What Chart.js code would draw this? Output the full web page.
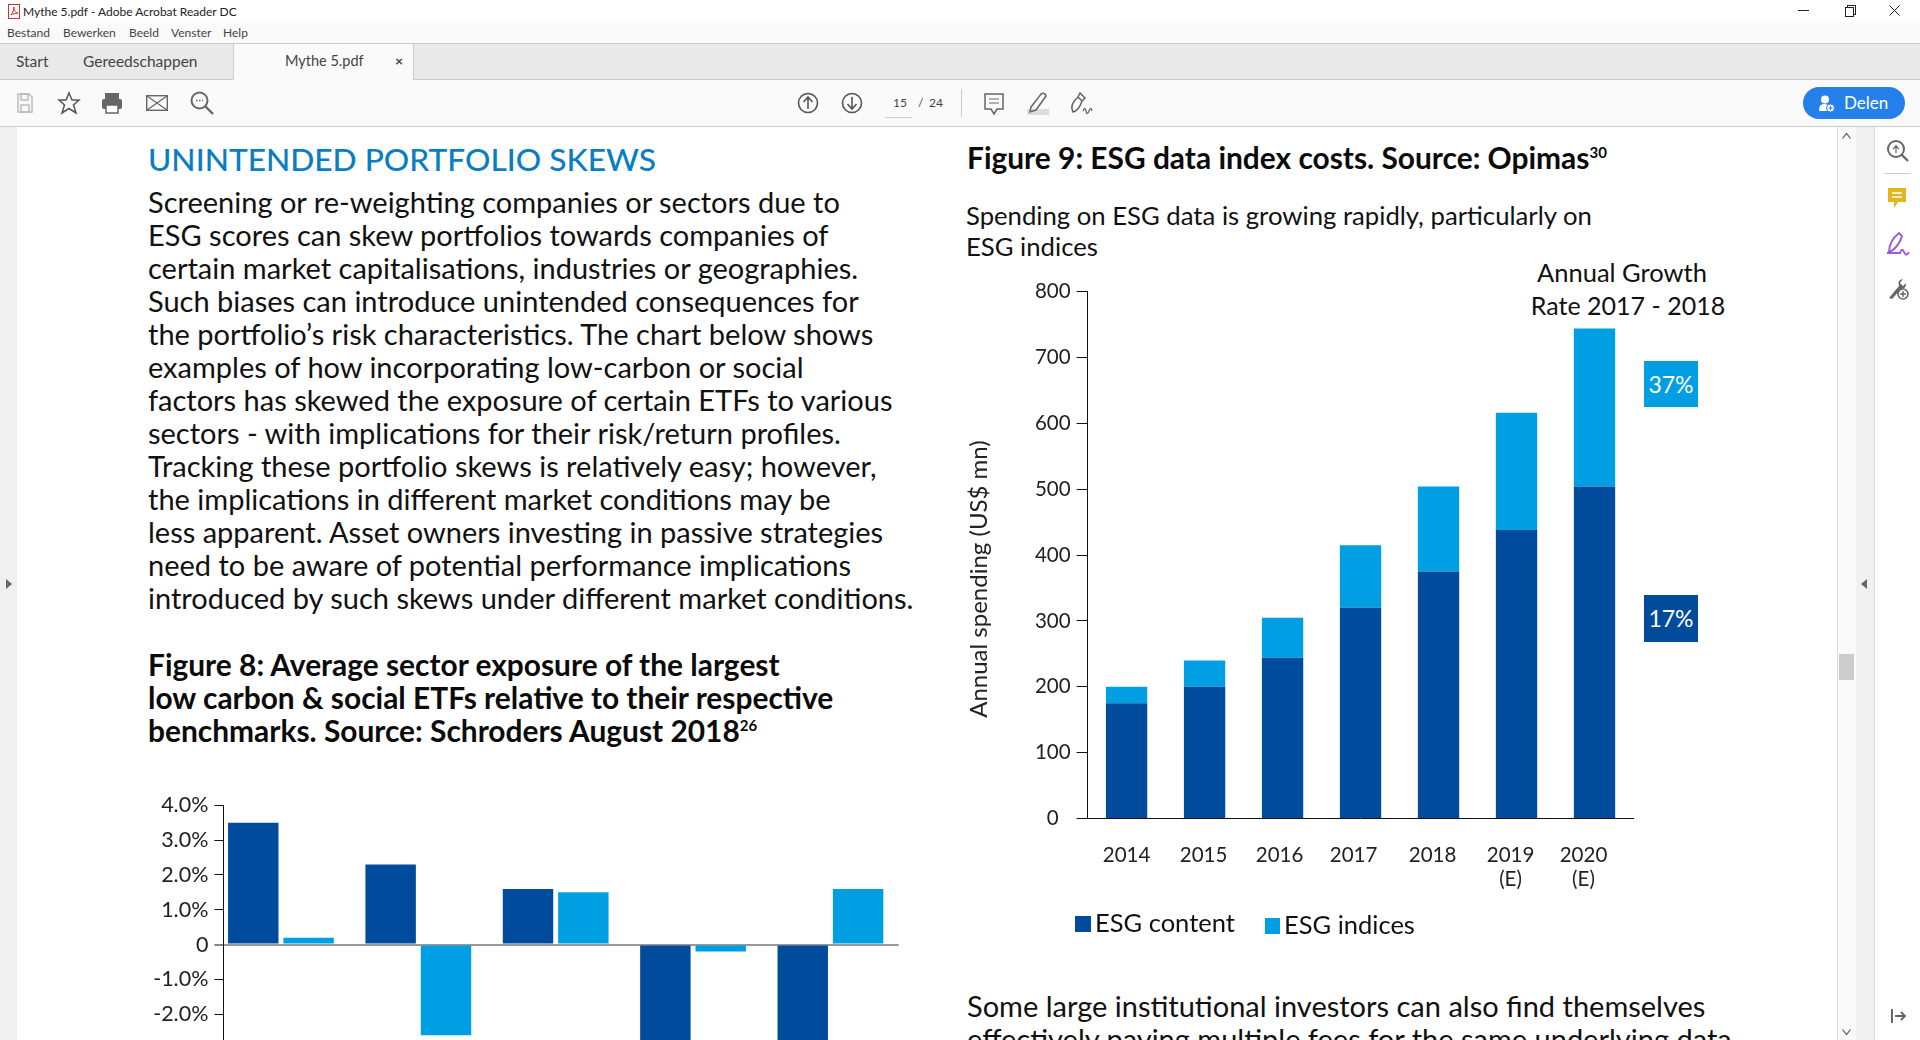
<!DOCTYPE html>
<html>
<head>
<meta charset="utf-8">
<title>Mythe 5.pdf</title>
<script src="https://cdn.jsdelivr.net/npm/chart.js@4"></script>
<style>
  html, body { margin: 0; padding: 0; width: 1920px; height: 1040px; overflow: hidden; background: #fff; font-family: Lato, sans-serif; color: #111; }
  .abs { position: absolute; white-space: nowrap; }
  .box { position: absolute; }
  .ui { font-family: Lato, sans-serif; color: #444; }
  canvas { position: absolute; }
  svg { position: absolute; overflow: visible; }
  .line { position: absolute; white-space: nowrap; height: 34px; line-height: 34px; }
</style>
</head>
<body>
<!-- title bar -->
<svg style="left:8px;top:4px" width="12" height="15"><rect x="0.5" y="0.5" width="11" height="14" fill="#fff" stroke="#c33"/><path d="M3 11 C5 8 6 6 6 3 C6 7 8 9 10 9 C7 9 5 10 3 11Z" fill="none" stroke="#c33"/></svg>
<div class="abs ui" style="left:23px;top:3px;font-size:12px;line-height:18px;color:#222">Mythe 5.pdf - Adobe Acrobat Reader DC</div>
<div class="box" style="left:1798px;top:10px;width:11px;height:1px;background:#222"></div>
<div class="box" style="left:1847px;top:5px;width:7px;height:8px;border:1px solid #222"></div>
<div class="box" style="left:1845px;top:7px;width:7px;height:8px;border:1px solid #222;background:#fff"></div>
<svg style="left:1889px;top:5px" width="11" height="11"><path d="M0.5 0.5L10.5 10.5M10.5 0.5L0.5 10.5" stroke="#222"/></svg>
<!-- menu bar -->
<div class="box" style="left:0;top:23px;width:1920px;height:20px;background:#fafafa;border-bottom:1px solid #ccc"></div>
<div class="abs ui" style="left:7px;top:24px;font-size:12px;line-height:18px">Bestand</div>
<div class="abs ui" style="left:63px;top:24px;font-size:12px;line-height:18px">Bewerken</div>
<div class="abs ui" style="left:129px;top:24px;font-size:12px;line-height:18px">Beeld</div>
<div class="abs ui" style="left:171px;top:24px;font-size:12px;line-height:18px">Venster</div>
<div class="abs ui" style="left:223px;top:24px;font-size:12px;line-height:18px">Help</div>
<!-- tabs -->
<div class="box" style="left:0;top:44px;width:1920px;height:35px;background:#e9e9e9;border-bottom:1px solid #ccc"></div>
<div class="box" style="left:233px;top:44px;width:179px;height:36px;background:#fafafa;border-left:1px solid #ccc;border-right:1px solid #ccc"></div>
<div class="abs ui" style="left:16px;top:51px;font-size:15.5px;line-height:20px">Start</div>
<div class="abs ui" style="left:83px;top:51px;font-size:15.5px;line-height:20px">Gereedschappen</div>
<div class="abs ui" style="left:285px;top:51px;font-size:14.5px;line-height:20px">Mythe 5.pdf</div>
<div class="abs ui" style="left:395px;top:51px;font-size:14px;line-height:20px;font-weight:700">×</div>
<!-- toolbar -->
<div class="box" style="left:0;top:80px;width:1920px;height:46px;background:#fafafa;border-bottom:1px solid #ccc"></div>
<svg style="left:17px;top:93px" width="16" height="20"><path d="M1 1H12L15 4V19H1Z" fill="none" stroke="#bbb" stroke-width="1.5"/><rect x="4" y="1" width="7" height="6" fill="none" stroke="#bbb" stroke-width="1.5"/><rect x="4" y="12" width="8" height="7" fill="none" stroke="#bbb" stroke-width="1.5"/></svg>
<svg style="left:58px;top:92px" width="22" height="22"><path d="M11 1L14 8H21L15.5 13L18 21L11 16.5L4 21L6.5 13L1 8H8Z" fill="none" stroke="#555" stroke-width="1.5"/></svg>
<svg style="left:101px;top:92px" width="22" height="22"><rect x="4" y="1" width="14" height="6" fill="#666"/><rect x="1" y="7" width="20" height="10" rx="2" fill="#666"/><rect x="5" y="13" width="12" height="8" fill="#fff" stroke="#666" stroke-width="1.5"/></svg>
<svg style="left:146px;top:95px" width="22" height="16"><rect x="0.7" y="0.7" width="20.6" height="14.6" fill="none" stroke="#666" stroke-width="1.4"/><path d="M1 1L21 15M21 1L1 15" stroke="#666" stroke-width="1.2"/></svg>
<svg style="left:190px;top:91px" width="24" height="24"><circle cx="9.5" cy="9.5" r="8" fill="none" stroke="#666" stroke-width="2"/><path d="M15 15L23 23" stroke="#666" stroke-width="2.4"/><path d="M6 9.5H13" stroke="#666" stroke-width="1.5" stroke-dasharray="1.5 1.5"/></svg>
<svg style="left:797px;top:92px" width="22" height="22"><circle cx="11" cy="11" r="9.5" fill="none" stroke="#555" stroke-width="1.6"/><path d="M11 17V5M6.5 10L11 5L15.5 10" fill="none" stroke="#555" stroke-width="1.6"/></svg>
<svg style="left:841px;top:92px" width="22" height="22"><circle cx="11" cy="11" r="9.5" fill="none" stroke="#555" stroke-width="1.6"/><path d="M11 5V17M6.5 12L11 17L15.5 12" fill="none" stroke="#555" stroke-width="1.6"/></svg>
<div class="abs ui" style="left:893px;top:94px;font-size:12px;line-height:18px">15</div>
<div class="abs ui" style="left:918px;top:94px;font-size:12px;line-height:18px">/</div>
<div class="abs ui" style="left:929px;top:94px;font-size:12px;line-height:18px">24</div>
<div class="box" style="left:885px;top:117px;width:27px;height:1px;background:#ccc"></div>
<div class="box" style="left:961px;top:89px;width:1px;height:28px;background:#ccc"></div>
<svg style="left:984px;top:93px" width="20" height="22"><path d="M1 1H19V16H13L10 21L7 16H1Z" fill="none" stroke="#666" stroke-width="1.5"/><path d="M5 6H15M5 10H15" stroke="#666" stroke-width="1.2"/></svg>
<svg style="left:1027px;top:92px" width="22" height="23"><rect x="0" y="17" width="22" height="6" fill="#ddd"/><path d="M4 15L14 2Q18 0 19 4L9 18L3 20Z" fill="none" stroke="#666" stroke-width="1.5"/></svg>
<svg style="left:1070px;top:92px" width="24" height="23"><path d="M3 20C0 14 3 10 8 5L12 9C10 15 8 19 3 20ZM8 5L10 1L15 6L12 9" fill="none" stroke="#666" stroke-width="1.5"/><path d="M13 19Q15 14 16 19T19 19T22 19" fill="none" stroke="#666" stroke-width="1.3"/></svg>
<div class="box" style="left:1803px;top:87px;width:102px;height:32px;border-radius:16px;background:#2680eb"></div>
<svg style="left:1818px;top:95px" width="18" height="18"><circle cx="7" cy="4.5" r="4" fill="#fff"/><path d="M1 16C1 10 3 9 7 9C9 9 10 10 11 11V16Z" fill="#fff"/><circle cx="12.5" cy="13" r="4" fill="#fff" stroke="#2680eb"/><path d="M10.5 13H14.5M12.5 11V15" stroke="#2680eb"/></svg>
<div class="abs ui" style="left:1844px;top:93px;font-size:17px;line-height:20px;color:#fff">Delen</div>
<!-- side panels -->
<div class="box" style="left:0;top:127px;width:17px;height:913px;background:#f0f0f0"></div>
<svg style="left:6px;top:579px" width="6" height="10"><path d="M0 0L6 5L0 10Z" fill="#666"/></svg>
<div class="box" style="left:1837px;top:127px;width:19px;height:913px;background:#fafafa;border-left:1px solid #ddd"></div>
<div class="box" style="left:1839px;top:654px;width:15px;height:26px;background:#ccc"></div>
<svg style="left:1842px;top:133px" width="9" height="6"><path d="M0.5 5.5L4.5 0.5L8.5 5.5" fill="none" stroke="#555" stroke-width="1.2"/></svg>
<svg style="left:1842px;top:1029px" width="9" height="6"><path d="M0.5 0.5L4.5 5.5L8.5 0.5" fill="none" stroke="#555" stroke-width="1.2"/></svg>
<div class="box" style="left:1856px;top:127px;width:18px;height:913px;background:#f0f0f0"></div>
<svg style="left:1861px;top:579px" width="6" height="10"><path d="M6 0L0 5L6 10Z" fill="#666"/></svg>
<div class="box" style="left:1874px;top:127px;width:46px;height:913px;background:#fff;border-left:1px solid #ddd"></div>
<svg style="left:1887px;top:140px" width="22" height="22"><circle cx="9" cy="9" r="8" fill="none" stroke="#666" stroke-width="2"/><path d="M14.5 14.5L21 21" stroke="#666" stroke-width="2.4"/><path d="M9 5V13M6 9L9 6M12 9L9 6" stroke="#666" stroke-width="1.2" fill="none"/></svg>
<div class="box" style="left:1884px;top:173px;width:27px;height:1px;background:#ccc"></div>
<svg style="left:1887px;top:187px" width="20" height="22"><path d="M1 1H19V15H11L7 21V15H1Z" fill="#e2b61c"/><path d="M5 6H15M5 10H15" stroke="#fff" stroke-width="1.6"/></svg>
<svg style="left:1886px;top:232px" width="24" height="23"><path d="M3 20C3 12 8 5 13 1L16 4C14 11 9 18 3 20Z" fill="none" stroke="#9a5dd8" stroke-width="2"/><path d="M1 21H14Q16 15 18 20T23 20" fill="none" stroke="#9a5dd8" stroke-width="2"/></svg>
<svg style="left:1887px;top:278px" width="22" height="22"><path d="M2 20L12 8Q10 2 16 1L13 5L16 8L19 5Q19 11 14 11L5 21Z" fill="#666"/><circle cx="16" cy="16" r="5" fill="#fff" stroke="#666" stroke-width="1.6"/><path d="M13 16H19M16 13V19" stroke="#666" stroke-width="1.4"/></svg>
<svg style="left:1891px;top:1009px" width="15" height="14"><path d="M1 0V14" stroke="#666" stroke-width="2"/><path d="M4 7H14M10 3L14 7L10 11" fill="none" stroke="#666" stroke-width="1.8"/></svg>

<!-- page text -->
<div class="abs" style="left:148px;top:140px;font-size:31.7px;line-height:38px;color:#0a7ec2;font-weight:500">UNINTENDED PORTFOLIO SKEWS</div>
<div id="bodyText"></div>
<div id="fig8Title"></div>
<div id="fig9Text"></div>

<!-- growth labels -->
<div class="abs" id="growthHead1" style="left:1537px;top:255px;width:170px;text-align:center;font-size:25.5px;line-height:34px">Annual Growth</div>
<div class="abs" id="growthHead2" style="left:1528px;top:288px;width:200px;text-align:center;font-size:25px;line-height:34px">Rate 2017 - 2018</div>
<div class="box" id="badgeIndices" style="left:1644px;top:361px;width:54px;height:46px;line-height:46px;text-align:center;color:#fff;font-size:23px"></div>
<div class="box" id="badgeContent" style="left:1644px;top:595px;width:54px;height:47px;line-height:47px;text-align:center;color:#fff;font-size:23px"></div>

<canvas id="fig9Chart" width="700" height="640" style="left:960px;top:270px"></canvas>
<canvas id="fig8Chart" width="820" height="320" style="left:100px;top:785px"></canvas>

<div class="box" style="left:1075px;top:916px;width:16px;height:16px" id="swatchContent"></div>
<div class="abs" id="legendContent" style="left:1095px;top:905px;font-size:25.5px;line-height:34px"></div>
<div class="box" style="left:1265px;top:918px;width:15px;height:16px" id="swatchIndices"></div>
<div class="abs" id="legendIndices" style="left:1284px;top:907px;font-size:25.5px;line-height:34px"></div>

<script>
// Figure 9 data
const fig9Years = [['2014'], ['2015'], ['2016'], ['2017'], ['2018'], ['2019', '(E)'], ['2020', '(E)']];
const esgContent = [175, 200, 244, 320, 375, 438, 504];
const esgIndices = [25, 40, 61, 95, 129, 178, 240];
const fig9YLabel = 'Annual spending (US$ mn)';
const growthRates = { indices: '37%', content: '17%' };

// Figure 8 data (lower ends of the two long dark bars are cut off by the window, estimated)
const fig8Groups = [1, 2, 3, 4, 5];
const fig8Dark = [3.5, 2.3, 1.6, -3.4, -3.6];
const fig8Light = [0.2, -2.6, 1.5, -0.2, 1.6];

const bodyLines = [
  'Screening or re-weighting companies or sectors due to',
  'ESG scores can skew portfolios towards companies of',
  'certain market capitalisations, industries or geographies.',
  'Such biases can introduce unintended consequences for',
  'the portfolio\u2019s risk characteristics. The chart below shows',
  'examples of how incorporating low-carbon or social',
  'factors has skewed the exposure of certain ETFs to various',
  'sectors - with implications for their risk/return profiles.',
  'Tracking these portfolio skews is relatively easy; however,',
  'the implications in different market conditions may be',
  'less apparent. Asset owners investing in passive strategies',
  'need to be aware of potential performance implications',
  'introduced by such skews under different market conditions.',
];
const fig8TitleLines = [
  'Figure 8: Average sector exposure of the largest',
  'low carbon &amp; social ETFs relative to their respective',
  'benchmarks. Source: Schroders August 2018<sup style="font-size:15px;line-height:0">26</sup>',
];

const DARK = '#004b9b';
const LIGHT = '#009fe3';

function addLines(parentId, lines, left, firstCenter, pitch, css) {
  const parent = document.getElementById(parentId);
  lines.forEach((text, i) => {
    const el = document.createElement('div');
    el.className = 'line';
    el.style.cssText = `left:${left}px;top:${firstCenter + i * pitch - 17}px;${css}`;
    el.innerHTML = text;
    parent.appendChild(el);
  });
}

addLines('bodyText', bodyLines, 148, 202, 33, 'font-size:29px;');
addLines('fig8Title', fig8TitleLines, 148, 664, 33, 'font-size:29.9px;font-weight:700;color:#0b0b0b;');
addLines('fig9Text', ['Figure 9: ESG data index costs. Source: Opimas<sup style="font-size:15px;line-height:0">30</sup>'], 967, 157, 0, 'font-size:29.9px;font-weight:700;color:#0b0b0b;');
addLines('fig9Text', ['Spending on ESG data is growing rapidly, particularly on', 'ESG indices'], 966, 215, 31, 'font-size:25.7px;');
addLines('fig9Text', ['Some large institutional investors can also find themselves', 'effectively paying multiple fees for the same underlying data'], 967, 1006, 33, 'font-size:29px;');

// Year labels sit a bit left of their bars in the source, and the y title is below centre
const yearNudge = [0, -1, -3, -7, -6, -6, -11];
const fig9TextPlugin = {
  id: 'fig9Text',
  afterDraw(chart) {
    const { ctx, scales: { x } } = chart;
    ctx.save();
    ctx.fillStyle = '#222';
    ctx.textAlign = 'center';
    ctx.textBaseline = 'middle';
    ctx.font = '20.5px Lato';
    fig9Years.forEach((lines, i) => {
      const xPx = x.getPixelForTick(i) + yearNudge[i];
      lines.forEach((line, j) => ctx.fillText(line, xPx, 855 - 270 + j * 24));
    });
    ctx.translate(979 - 960, 579 - 270);
    ctx.rotate(-Math.PI / 2);
    ctx.font = '24px Lato';
    ctx.fillText(fig9YLabel, 0, 0);
    ctx.restore();
  },
};

const fig9Chart = new Chart(document.getElementById('fig9Chart'), {
  type: 'bar',
  data: {
    labels: fig9Years,
    datasets: [
      { label: 'ESG content', data: esgContent, backgroundColor: DARK },
      { label: 'ESG indices', data: esgIndices, backgroundColor: LIGHT },
    ],
  },
  options: {
    responsive: false,
    animation: false,
    layout: { padding: { top: 21.6, right: 26.5 } },
    datasets: { bar: { categoryPercentage: 1, barPercentage: 0.53 } },
    scales: {
      x: {
        stacked: true,
        ticks: { display: false },
        grid: { display: false },
        border: { color: '#111', width: 1 },
        afterFit(scale) { scale.height = 91.4; },
      },
      y: {
        stacked: true,
        min: 0,
        max: 800,
        ticks: { stepSize: 100, color: '#222', font: { family: 'Lato', size: 20.5 }, padding: 6, crossAlign: 'center' },
        grid: { drawOnChartArea: false, tickLength: 11, tickColor: '#111' },
        border: { color: '#111', width: 1 },
        afterFit(scale) { scale.width = 127.6; },
      },
    },
    plugins: { legend: { display: false }, tooltip: { enabled: false } },
  },
  plugins: [fig9TextPlugin],
});

// Legend and badges as html, coloured from the chart's datasets
const [contentSet, indicesSet] = fig9Chart.data.datasets;
document.getElementById('swatchContent').style.background = contentSet.backgroundColor;
document.getElementById('legendContent').textContent = contentSet.label;
document.getElementById('swatchIndices').style.background = indicesSet.backgroundColor;
document.getElementById('legendIndices').textContent = indicesSet.label;
const badgeIndices = document.getElementById('badgeIndices');
badgeIndices.textContent = growthRates.indices;
badgeIndices.style.background = indicesSet.backgroundColor;
const badgeContent = document.getElementById('badgeContent');
badgeContent.textContent = growthRates.content;
badgeContent.style.background = contentSet.backgroundColor;

// Linear x axis: the first group starts further from the y axis than half a group width
new Chart(document.getElementById('fig8Chart'), {
  type: 'bar',
  data: {
    datasets: [
      { label: 'Dark', data: fig8Groups.map((g, i) => ({ x: g, y: fig8Dark[i] })), backgroundColor: DARK },
      { label: 'Light', data: fig8Groups.map((g, i) => ({ x: g, y: fig8Light[i] })), backgroundColor: LIGHT },
    ],
  },
  options: {
    responsive: false,
    animation: false,
    layout: { padding: { top: 20.3, right: 21.3 } },
    datasets: { bar: { categoryPercentage: 0.806, barPercentage: 0.911 } },
    scales: {
      x: {
        type: 'linear',
        offset: false,
        min: 0.581,
        max: 5.497,
        // ticks only on the groups, bar width is measured from tick spacing too
        ticks: { display: false, stepSize: 1, includeBounds: false },
        grid: { display: false, offset: false },
        border: { display: false },
        afterFit(scale) { scale.height = 21.1; },
      },
      y: {
        min: -4,
        max: 4,
        ticks: {
          stepSize: 1,
          color: '#222',
          font: { family: 'Lato', size: 21.5 },
          padding: 6,
          // -3.0% falls just past the window's edge
          callback: v => (v < -2 ? null : v === 0 ? '0' : v.toFixed(1) + '%'),
        },
        grid: {
          tickLength: 9,
          tickColor: '#111',
          color: ctx => (ctx.tick && ctx.tick.value === 0 ? '#999' : 'rgba(0,0,0,0)'),
          lineWidth: ctx => (ctx.tick && ctx.tick.value === 0 ? 2 : 1),
          tickWidth: 1,
        },
        border: { color: '#111', width: 1 },
        afterFit(scale) { scale.width = 123.4; },
      },
    },
    plugins: { legend: { display: false }, tooltip: { enabled: false } },
  },
});
</script>
</body>
</html>
